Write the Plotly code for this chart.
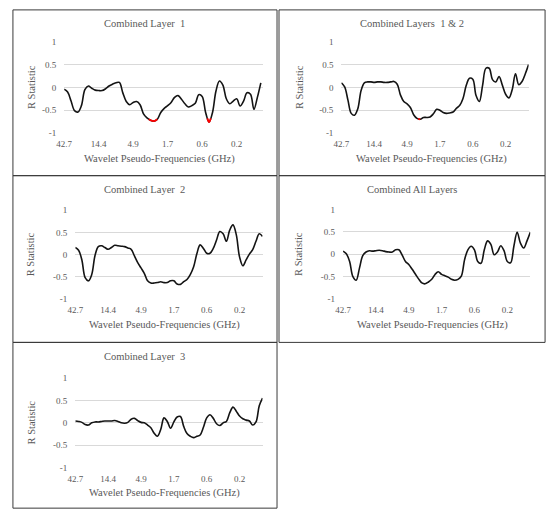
import plotly.graph_objects as go

W, H = 550, 521

# x axis is the wavelet scale index, labelled with pseudo-frequency every 10 scales
scale_idx = list(range(58))
freq_tickvals = [0, 10, 20, 30, 40, 50]
freq_ticktext = ["42.7", "14.4", "4.9", "1.7", "0.6", "0.2"]
r_tickvals = [-1, -0.5, 0, 0.5, 1]
r_ticktext = ["-1", "-0.5", "0", "0.5", "1"]

layer1 = [-0.04, -0.10, -0.30, -0.51, -0.54, -0.40, -0.05, 0.03, -0.02, -0.06,
          -0.07, -0.07, -0.03, 0.03, 0.07, 0.10, 0.11, -0.12, -0.31, -0.38,
          -0.33, -0.31, -0.38, -0.58, -0.67, -0.72, -0.74, -0.70, -0.55, -0.46,
          -0.40, -0.33, -0.22, -0.18, -0.26, -0.36, -0.43, -0.40, -0.35, -0.16,
          -0.20, -0.55, -0.76, -0.55, -0.08, 0.14, 0.05, -0.25, -0.36, -0.30,
          -0.25, -0.41, -0.30, -0.12, -0.15, -0.48, -0.22, 0.10]

layers12 = [0.10, 0.01, -0.28, -0.57, -0.61, -0.47, -0.07, 0.10, 0.12, 0.12,
            0.11, 0.12, 0.12, 0.11, 0.11, 0.12, 0.13, 0.07, -0.17, -0.31,
            -0.36, -0.44, -0.60, -0.68, -0.70, -0.66, -0.66, -0.65, -0.58, -0.48,
            -0.50, -0.55, -0.57, -0.56, -0.54, -0.46, -0.40, -0.25, 0.04, 0.20,
            0.18, -0.18, -0.31, 0.05, 0.42, 0.42, 0.17, 0.12, 0.24, 0.05,
            -0.15, -0.23, -0.05, 0.30, 0.06, 0.13, 0.30, 0.50]

layer2 = [0.16, 0.10, -0.12, -0.52, -0.59, -0.45, -0.02, 0.18, 0.20, 0.16,
          0.12, 0.16, 0.21, 0.20, 0.19, 0.18, 0.15, 0.12, -0.03, -0.18,
          -0.30, -0.42, -0.59, -0.64, -0.64, -0.63, -0.61, -0.63, -0.63, -0.59,
          -0.59, -0.66, -0.67, -0.61, -0.56, -0.45, -0.28, 0.02, 0.22, 0.14,
          0.03, 0.03, 0.14, 0.33, 0.52, 0.47, 0.30, 0.55, 0.67, 0.45,
          -0.05, -0.25, -0.12, 0.01, 0.11, 0.30, 0.47, 0.41]

all_layers = [0.07, 0.01, -0.16, -0.50, -0.58, -0.31, -0.03, 0.05, 0.08, 0.07,
              0.08, 0.09, 0.08, 0.06, 0.05, 0.05, 0.10, 0.10, -0.02, -0.16,
              -0.23, -0.33, -0.44, -0.55, -0.64, -0.66, -0.62, -0.56, -0.45, -0.39,
              -0.45, -0.48, -0.51, -0.56, -0.58, -0.56, -0.49, -0.12, 0.10, 0.18,
              0.10, -0.16, -0.20, 0.10, 0.30, 0.22, -0.01, 0.05, 0.19, 0.08,
              -0.16, -0.19, 0.18, 0.49, 0.25, 0.14, 0.30, 0.49]

layer3 = [0.04, 0.03, 0.01, -0.04, -0.05, 0.00, 0.02, 0.02, 0.03, 0.04,
          0.04, 0.04, 0.05, 0.03, 0.00, -0.01, 0.01, 0.08, 0.10, 0.05,
          0.01, 0.00, -0.05, -0.11, -0.23, -0.30, -0.15, 0.11, 0.03, -0.12,
          0.02, 0.13, 0.14, -0.08, -0.24, -0.30, -0.33, -0.30, -0.27, -0.10,
          0.11, 0.18, 0.10, -0.02, -0.06, 0.00, 0.03, 0.22, 0.35, 0.26,
          0.15, 0.09, 0.06, 0.04, -0.05, 0.02, 0.38, 0.55]

# highlighted (red) minima
layer1_red_a_x = [24.5, 25, 26, 27]
layer1_red_a_y = [-0.70, -0.72, -0.74, -0.70]
layer1_red_b_x = [41.5, 42, 42.5]
layer1_red_b_y = [-0.68, -0.76, -0.68]
layers12_red_x = [23.4, 24]
layers12_red_y = [-0.69, -0.70]

GREY = "#595959"
FONT = "Liberation Serif"

# pixel geometry: frame box, plot box (x0, x1, ytop, ybottom), x range end, y title x
panels = [
    dict(title="Combined Layer  1", y=layer1, frame=(5, 273, 5, 174),
         plot=(57, 258.3, 37.3, 130.7), xend=57.5, ytx=24,
         red=[(layer1_red_a_x, layer1_red_a_y), (layer1_red_b_x, layer1_red_b_y)]),
    dict(title="Combined Layers  1 & 2", y=layers12, frame=(275, 545, 5, 174),
         plot=(338.3, 528.3, 37.3, 130.7), xend=57, ytx=296,
         red=[(layers12_red_x, layers12_red_y)]),
    dict(title="Combined Layer  2", y=layer2, frame=(5, 273, 174, 344),
         plot=(68.3, 258.3, 209, 300), xend=57, ytx=23, red=[]),
    dict(title="Combined All Layers", y=all_layers, frame=(275, 545, 174, 344),
         plot=(340, 530, 208.3, 300), xend=57, ytx=295, red=[]),
    dict(title="Combined Layer  3", y=layer3, frame=(5, 273, 344, 513),
         plot=(68.3, 258.3, 380, 472), xend=57, ytx=24, red=[]),
]


def px(x):
    return x / W


def py(y):
    return 1 - y / H


fig = go.Figure()
annotations = []
shapes = []

for i, p in enumerate(panels):
    n = "" if i == 0 else str(i + 1)
    x0, x1, yt, yb = p["plot"]

    fig.add_trace(go.Scatter(x=scale_idx, y=p["y"], mode="lines",
                             line=dict(color="#141414", width=1.6, shape="spline"),
                             xaxis="x" + n, yaxis="y" + n, showlegend=False))
    for rx, ry in p["red"]:
        fig.add_trace(go.Scatter(x=rx, y=ry, mode="lines",
                                 line=dict(color="#ff0000", width=1.8, shape="spline"),
                                 xaxis="x" + n, yaxis="y" + n, showlegend=False))

    fig.layout["xaxis" + n] = dict(
        domain=[px(x0), px(x1)], range=[0, p["xend"]], anchor="y" + n,
        tickvals=freq_tickvals, ticktext=freq_ticktext, showgrid=False,
        zeroline=False, showline=False, ticks="", ticklabelstandoff=4,
        tickfont=dict(family=FONT, size=9, color=GREY))
    fig.layout["yaxis" + n] = dict(
        domain=[py(yb), py(yt)], range=[-1.005, 1.005], anchor="x" + n,
        tickvals=r_tickvals, ticktext=r_ticktext, showgrid=True,
        gridcolor="#d9d9d9", gridwidth=1, zeroline=False, showline=False,
        ticks="", ticklabelstandoff=7,
        tickfont=dict(family=FONT, size=9, color=GREY))

    fx0, fx1, fyt, fyb = p["frame"]
    shapes.append(dict(type="rect", xref="paper", yref="paper",
                       x0=px(fx0), x1=px(fx1), y0=py(fyb), y1=py(fyt),
                       line=dict(color="#3a3a3a", width=1)))

    annotations.append(dict(text=p["title"], xref="paper", yref="paper",
                            x=px((fx0 + fx1) / 2), y=py(fyt + 14),
                            showarrow=False, xanchor="center", yanchor="middle",
                            font=dict(family=FONT, size=10.5, color=GREY)))
    annotations.append(dict(text="Wavelet Pseudo-Frequencies (GHz)", xref="paper",
                            yref="paper", x=px((x0 + x1) / 2 - 4), y=py(yb + 26),
                            showarrow=False, xanchor="center", yanchor="middle",
                            font=dict(family=FONT, size=10.5, color=GREY)))
    annotations.append(dict(text="R Statistic", xref="paper", yref="paper",
                            x=px(p["ytx"]), y=py((yt + yb) / 2), textangle=-90,
                            showarrow=False, xanchor="center", yanchor="middle",
                            font=dict(family=FONT, size=10.5, color=GREY)))

fig.update_layout(width=W, height=H, margin=dict(l=0, r=0, t=0, b=0),
                  paper_bgcolor="white", plot_bgcolor="white",
                  annotations=annotations, shapes=shapes)

# page body has a default margin; drop it so the figure fills the window
fig.write_html("out.html", config={"displayModeBar": False},
               post_script="document.body.style.margin='0';"
                           "document.body.style.overflow='hidden';")
